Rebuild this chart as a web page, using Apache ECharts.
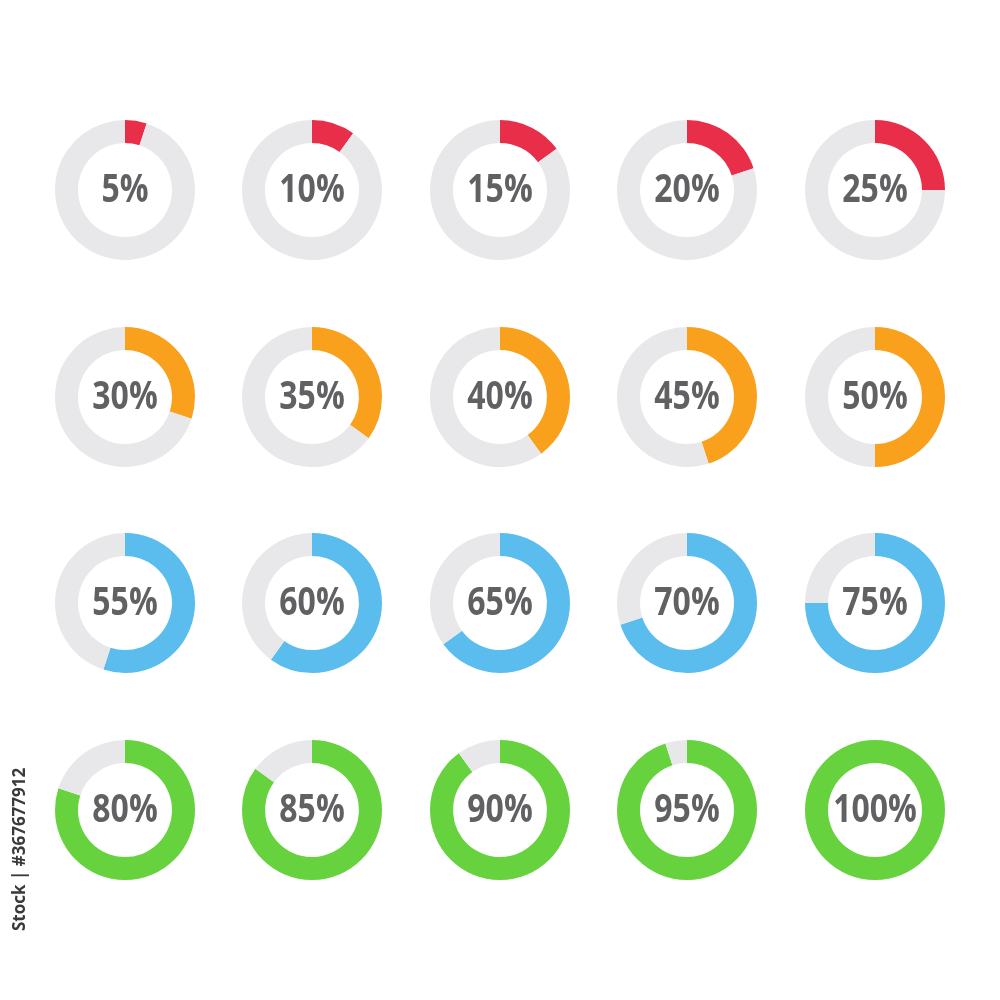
<!DOCTYPE html>
<html>
<head>
<meta charset="utf-8">
<script src="https://cdn.jsdelivr.net/npm/echarts@6/dist/echarts.min.js"></script>
<style>
  html, body { margin: 0; padding: 0; background: #fff; }
  #chart { width: 1000px; height: 1000px; }
</style>
</head>
<body>
<div id="chart"></div>
<script>
  // percentages shown, read row by row
  const percents = [5, 10, 15, 20, 25, 30, 35, 40, 45, 50, 55, 60, 65, 70, 75, 80, 85, 90, 95, 100];
  // one colour per row
  const rowColors = ["#e92e4a", "#f9a11d", "#5abdee", "#66d23d"];
  const trackColor = "#e8e8ea";

  const colX = [125, 312, 500, 687, 875];
  const rowY = [190, 397, 603, 810];

  const chart = echarts.init(document.getElementById("chart"));

  const series = percents.map((p, i) => {
    const row = Math.floor(i / 5);
    const col = i % 5;
    return {
      type: "pie",
      silent: true,
      radius: [47, 70],
      center: [colX[col], rowY[row]],
      startAngle: 90,
      clockwise: true,
      label: { show: false },
      labelLine: { show: false },
      emphasis: { disabled: true },
      data: [
        { value: p, itemStyle: { color: rowColors[row] } },
        { value: 100 - p, itemStyle: { color: trackColor } },
      ],
    };
  });

  // centre labels, narrowed a bit to look like the condensed face
  const labels = percents.map((p, i) => ({
    type: "text",
    x: colX[i % 5],
    y: rowY[Math.floor(i / 5)] + 1,
    scaleX: 0.82,
    silent: true,
    style: {
      text: p + "%",
      fill: "#616163",
      font: "bold 39px 'Open Sans'",
      textAlign: "center",
      textVerticalAlign: "middle",
    },
  }));

  const option = {
    backgroundColor: "#fff",
    animation: false,
    series: series,
    graphic: labels.concat([
      {
        type: "text",
        x: 12,
        y: 931,
        rotation: Math.PI / 2,
        style: {
          text: "Stock | #367677912",
          fill: "#3a3a3a",
          font: "bold 17px 'Open Sans'",
          textVerticalAlign: "top",
        },
      },
    ]),
  };
  chart.setOption(option);
</script>
</body>
</html>
